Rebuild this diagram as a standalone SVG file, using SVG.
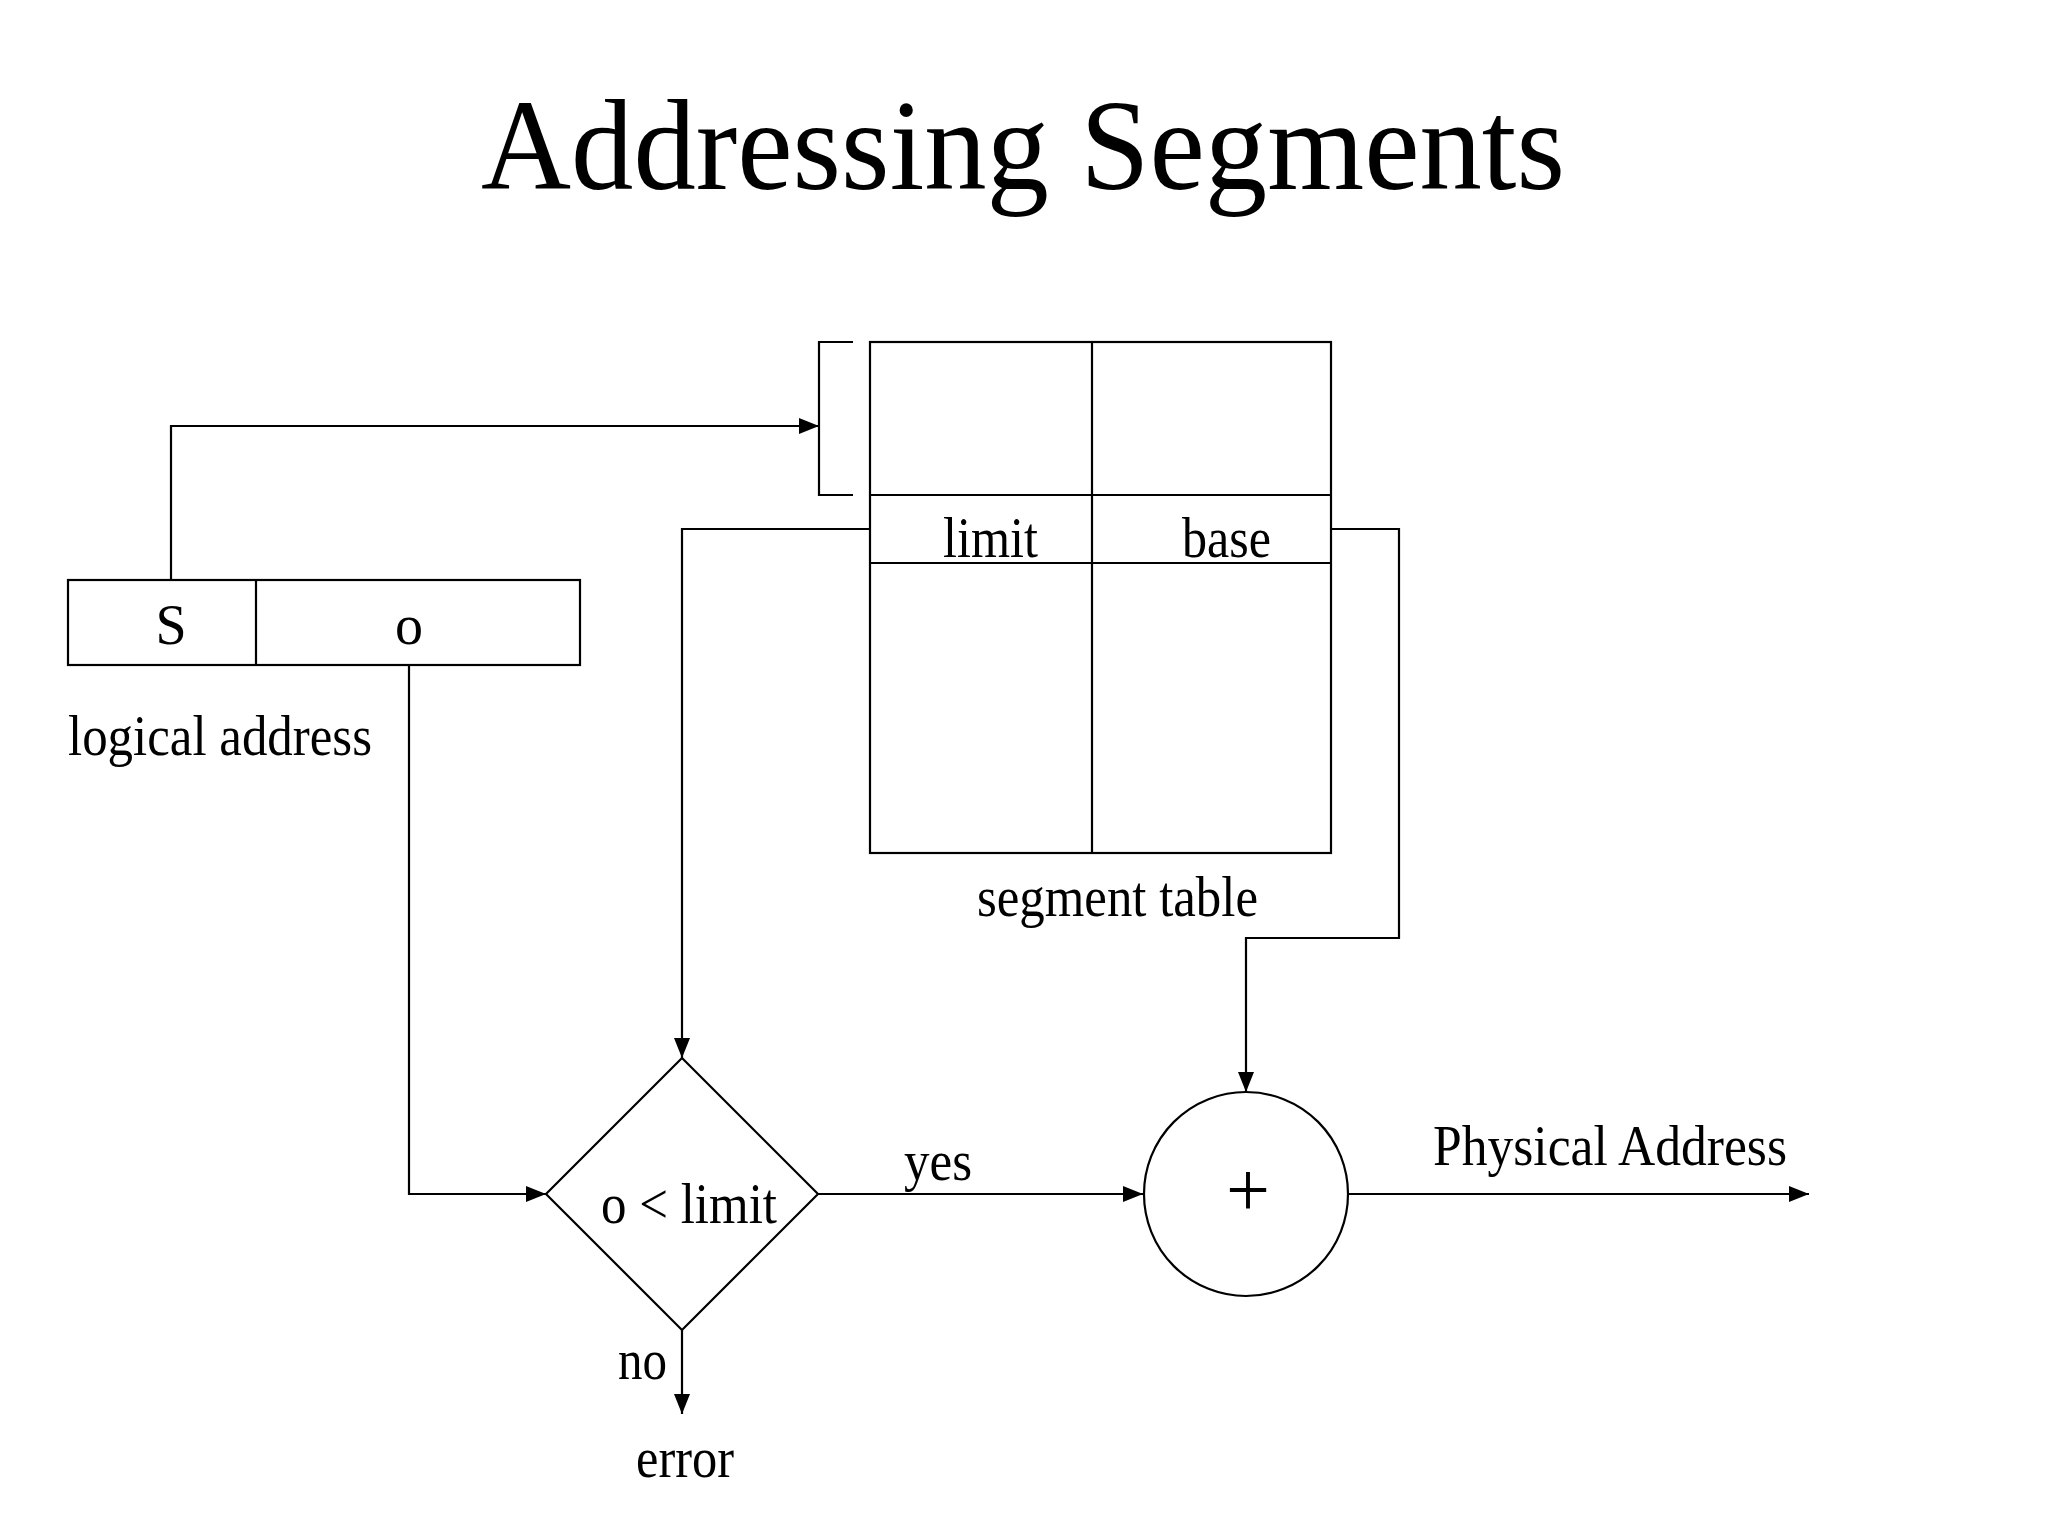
<svg xmlns="http://www.w3.org/2000/svg" width="2048" height="1536" viewBox="0 0 2048 1536">
<style>
.ln{fill:none;stroke:#000;stroke-width:2.2}
.sh{fill:#fff;stroke:#000;stroke-width:2.2}
.t{font-family:"Liberation Serif","Times New Roman",serif;font-size:56px;fill:#000}
.c{text-anchor:middle}
</style>
<defs>
<marker id="ah" viewBox="0 0 20 16" refX="20" refY="8" markerWidth="20" markerHeight="16" markerUnits="userSpaceOnUse" orient="auto">
<path d="M0,0 L20,8 L0,16 Z" fill="#000"/>
</marker>
</defs>
<rect width="2048" height="1536" fill="#fff"/>
<text class="t" x="481" y="189" style="font-size:130px" textLength="1084" lengthAdjust="spacingAndGlyphs">Addressing Segments</text>

<g id="connectors">
<polyline class="ln" points="171,580 171,426 819,426" marker-end="url(#ah)"/>
<polyline class="ln" points="870,529 682,529 682,1058" marker-end="url(#ah)"/>
<polyline class="ln" points="1331,529 1399,529 1399,938 1246,938 1246,1092" marker-end="url(#ah)"/>
<polyline class="ln" points="409,665 409,1194 546,1194" marker-end="url(#ah)"/>
<line class="ln" x1="818" y1="1194" x2="1143" y2="1194" marker-end="url(#ah)"/>
<line class="ln" x1="1348" y1="1194" x2="1809" y2="1194" marker-end="url(#ah)"/>
<line class="ln" x1="682" y1="1330" x2="682" y2="1414" marker-end="url(#ah)"/>
<text class="t" x="904" y="1180" textLength="68" lengthAdjust="spacingAndGlyphs">yes</text>
<text class="t" x="1433" y="1165" textLength="354" lengthAdjust="spacingAndGlyphs">Physical Address</text>
<text class="t" x="618" y="1379" textLength="49" lengthAdjust="spacingAndGlyphs">no</text>
</g>

<g id="logical-address">
<rect class="sh" x="68" y="580" width="512" height="85"/>
<line class="ln" x1="256" y1="580" x2="256" y2="665"/>
<text class="t c" x="171" y="644">S</text>
<text class="t c" x="409" y="644">o</text>
<text class="t" x="68" y="755" textLength="304" lengthAdjust="spacingAndGlyphs">logical address</text>
</g>

<g id="segment-table">
<polyline class="ln" points="853,342 819,342 819,495 853,495"/>
<rect class="sh" x="870" y="342" width="461" height="511"/>
<line class="ln" x1="1092" y1="342" x2="1092" y2="853"/>
<line class="ln" x1="870" y1="495" x2="1331" y2="495"/>
<line class="ln" x1="870" y1="563" x2="1331" y2="563"/>
<text class="t" x="943" y="557" textLength="95" lengthAdjust="spacingAndGlyphs">limit</text>
<text class="t" x="1182" y="557" textLength="89" lengthAdjust="spacingAndGlyphs">base</text>
<text class="t" x="977" y="916" textLength="281" lengthAdjust="spacingAndGlyphs">segment table</text>
</g>

<g id="check">
<polygon class="sh" points="682,1058 818,1194 682,1330 546,1194"/>
<text class="t" x="601" y="1223" textLength="176" lengthAdjust="spacingAndGlyphs">o &lt; limit</text>
</g>

<g id="adder">
<circle class="sh" cx="1246" cy="1194" r="102"/>
<text class="t c" x="1248" y="1216" style="font-size:78px">+</text>
</g>

<g id="error">
<text class="t" x="636" y="1477" textLength="98" lengthAdjust="spacingAndGlyphs">error</text>
</g>
</svg>
